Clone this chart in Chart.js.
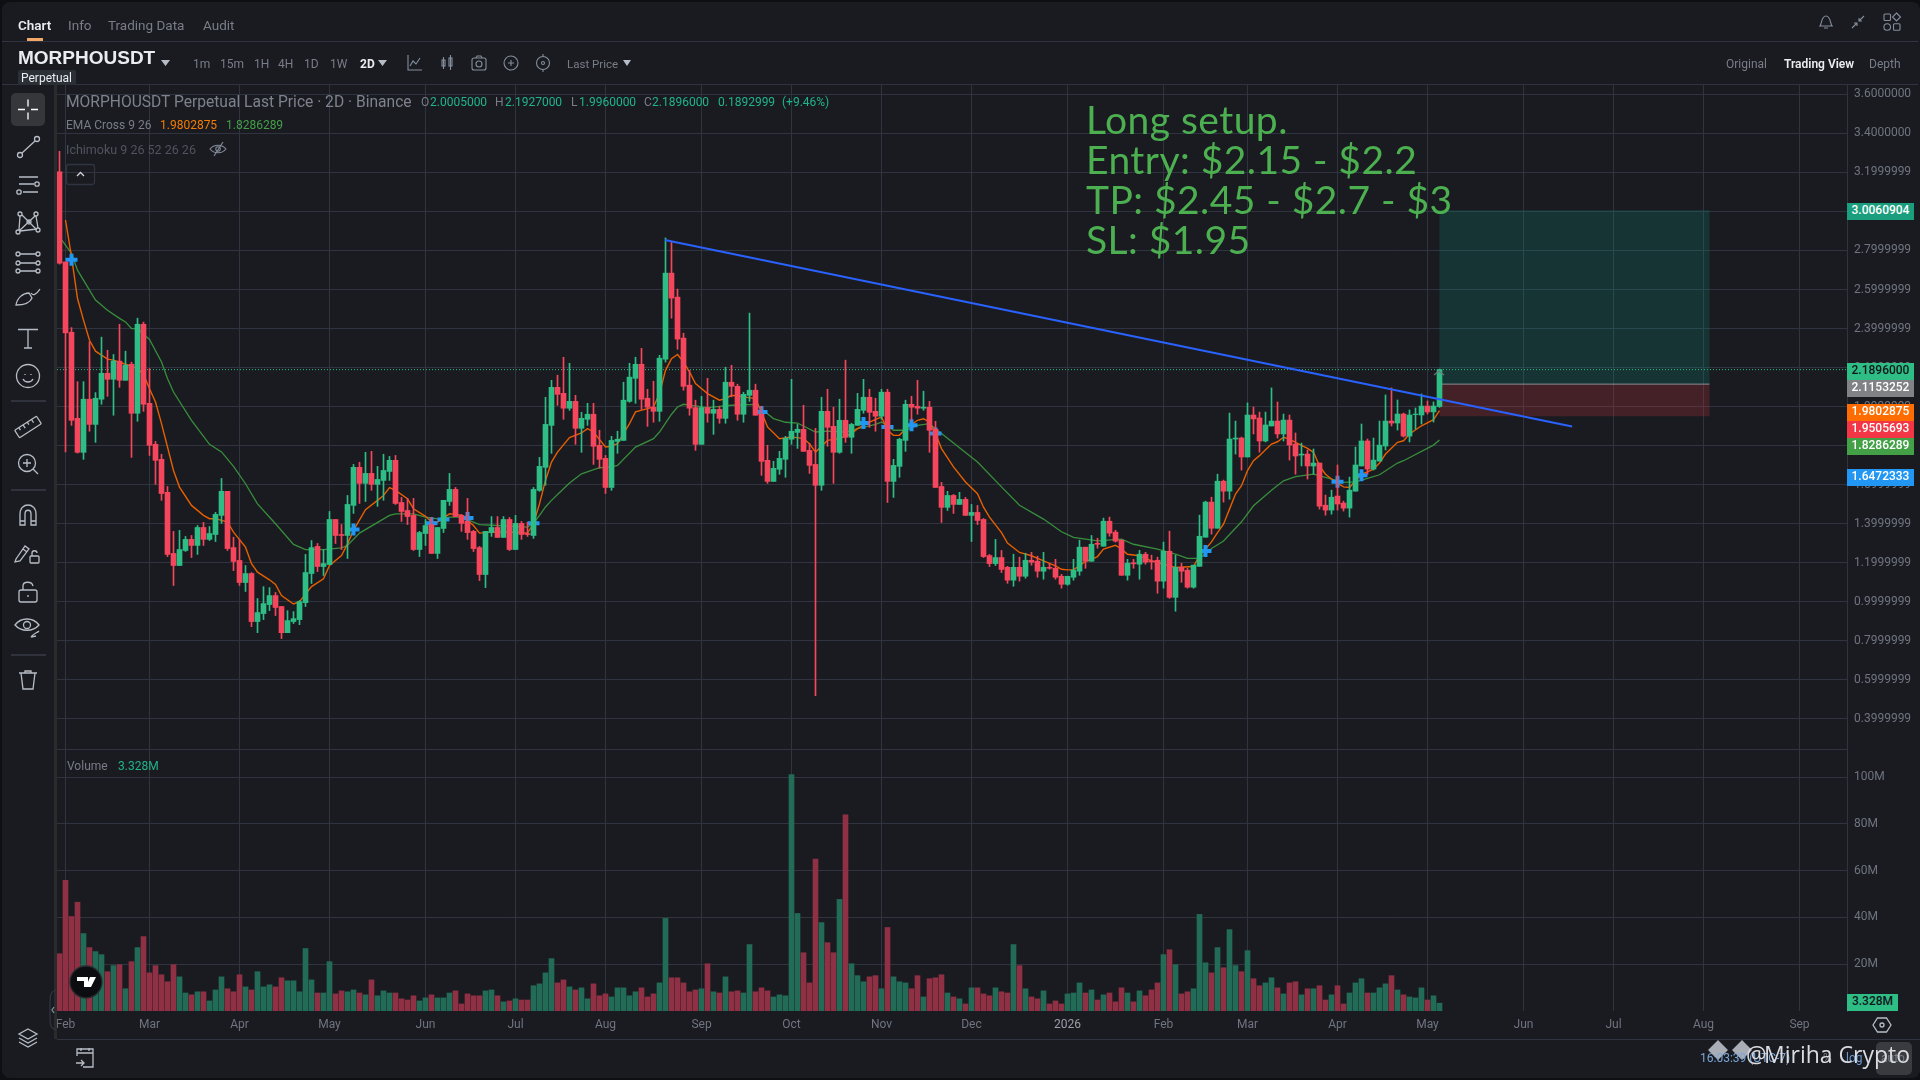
<!DOCTYPE html>
<html lang="en">
<head>
<meta charset="UTF-8">
<title>MORPHOUSDT Perpetual 2D</title>
<script src="https://cdn.jsdelivr.net/npm/chart.js"></script>
<style>
    html, body { margin: 0; width: 1920px; height: 1080px; overflow: hidden; background: #0e0f12; }
    #panel { position: absolute; left: 2px; top: 2px; width: 1918px; height: 1076px; background: #1a1b20; border-radius: 8px; }
    canvas { position: absolute; left: 0; }
    #priceChart { top: 84px; }
    #volumeChart { top: 749px; }
    #icons { position: absolute; left: 0; top: 0; z-index: 3; }
    .t { position: absolute; white-space: nowrap; transform: translateY(-50%); font-family: Roboto, sans-serif; z-index: 4; }
    .tag { position: absolute; left: 1847px; width: 67px; height: 17px; line-height: 17px; text-align: center; font: 500 12px Roboto, sans-serif; color: #fff; z-index: 4; }
    .hline { position: absolute; height: 1px; background: #2f3440; z-index: 2; }
    #setup { position: absolute; left: 1086px; top: 99px; z-index: 4; font: 39px/40px Lato, sans-serif; letter-spacing: 0.45px; color: #4caf50; white-space: pre; }
</style>
</head>
<body>
<div id="panel"></div>
<canvas id="priceChart" width="1920" height="665"></canvas>
<canvas id="volumeChart" width="1920" height="291"></canvas>
<div class="hline" style="left:2px;top:41px;width:1916px"></div>
<div class="hline" style="left:2px;top:84px;width:1916px"></div>
<div class="hline" style="left:57px;top:749px;width:1790px"></div>
<div class="hline" style="left:57px;top:1039px;width:1863px"></div>
<div id="setup">Long setup.
Entry: $2.15 - $2.2
TP: $2.45 - $2.7 - $3
SL: $1.95</div>

<svg id="icons" width="1920" height="1080" fill="none" stroke="#b7bdc6" stroke-width="1.3">
    <rect x="54" y="84" width="3" height="955" fill="#2b2b2d" stroke="none"/>
    <rect x="11" y="93" width="34" height="33" rx="5" fill="#36373b" stroke="none"/>
    <path d="M18 109.5h7M31 109.5h7M28 99.5v7M28 112.5v7" stroke="#fff"/>
    <g transform="translate(28,147)"><circle cx="-8" cy="8" r="2.5"/><circle cx="9" cy="-8" r="2.5"/><path d="M-6 6L7 -6"/></g>
    <g transform="translate(28,184)"><path d="M-9 -7H10M-9 0H6M-5 8H10"/><circle cx="9" cy="0" r="2.2"/><circle cx="-9" cy="8" r="2.2"/></g>
    <g transform="translate(28,223)"><circle cx="-8" cy="-9" r="2"/><circle cx="8" cy="-9" r="2"/><circle cx="-10" cy="9" r="2"/><circle cx="10" cy="7" r="2"/><circle cx="1" cy="-1" r="2"/><path d="M-8 -7L-9 7M-6 -8L8 6M7 -7L-9 8M8 -7L10 5M-8 8L9 6"/></g>
    <g transform="translate(28,262)"><circle cx="-10" cy="-8" r="2"/><circle cx="-10" cy="1" r="2"/><circle cx="-10" cy="9" r="2"/><circle cx="10" cy="-8" r="2"/><circle cx="10" cy="1" r="2"/><circle cx="10" cy="9" r="2"/><path d="M-8 -8H8M-8 9H8M-8 1H8"/></g>
    <g transform="translate(28,296)"><path d="M-12 9C-11 2 -5 -3 1 -3L4 2C2 7 -4 9 -12 9ZM3 -3C5 0 8 -1 12 -7"/></g>
    <path d="M18 329.5H38M28 329.5V348M24 348H32"/>
    <g transform="translate(28,376)"><circle r="11.5"/><path d="M-5 3C-3 7 3 7 5 3"/><path d="M-3 -2v1M3 -2v1"/></g>
    <g transform="translate(28,427) rotate(-33)"><rect x="-13" y="-4.5" width="26" height="9" rx="1"/><path d="M-8 -4.5v3M-3 -4.5v4M2 -4.5v3M7 -4.5v4"/></g>
    <g transform="translate(28,464)"><circle cx="-1" cy="-1" r="8.5"/><path d="M-5 -1h8M-1 -5v8M5 5l5 5"/></g>
    <g transform="translate(28,516)"><path d="M-8 9V-2C-8 -14 8 -14 8 -2V9H3V-2C3 -7 -3 -7 -3 -2V9ZM-8 5H-3M3 5H8"/></g>
    <g transform="translate(27,553)"><path d="M-11 6L-2 -7L2 -4L-7 8L-12 9ZM-4 -4L0 -1"/><rect x="3" y="3" width="9" height="7" rx="1"/><path d="M5 3V0C5 -3 10 -3 10 0"/></g>
    <g transform="translate(28,592)"><rect x="-9" y="-2" width="18" height="12" rx="2"/><path d="M-5 -2V-6C-5 -11 4 -11 5 -6"/><path d="M0 3v2"/></g>
    <g transform="translate(27,627)"><path d="M-12 -2C-6 -10 6 -10 12 -2C6 5 -6 5 -12 -2Z"/><circle cy="-2" r="3.5"/><path d="M4 10C7 6 10 6 12 4M4 10L9 9"/></g>
    <g transform="translate(28,680)"><path d="M-9 -7H9M-7 -7L-5 9H5L7 -7M-3 -7V-9H3V-7"/></g>
    <g transform="translate(28,1038)"><path d="M0 -9L9 -4L0 1L-9 -4ZM-9 0L0 5L9 0M-9 4L0 9L9 4"/></g>
    <g transform="translate(85,1058)"><path d="M-8 -2V-9H8V9H-2M-8 -5H8M-4 -10v3M4 -10v3M-9 5H-1M-4 2L-1 5L-4 8"/></g>
    <g transform="translate(1882,1025)"><path d="M-9 0L-4.5 -7H4.5L9 0L4.5 7H-4.5Z"/><circle r="2"/></g>
    <g transform="translate(218,149)" stroke="#848e9c" stroke-width="1.1"><path d="M-8 0C-4 -5 4 -5 8 0C4 5 -4 5 -8 0Z"/><circle r="2.2"/><path d="M-4 7L5 -7"/></g>
    <path d="M1434 375L1439 371L1444 375" stroke="#6f7480"/>
    <circle cx="86" cy="982" r="16" fill="#0c0d10" stroke="#2b2c30"/>
    <path d="M77 977H88V987H84V981H77ZM90 977H96L91 987H86Z" fill="#fff" stroke="none"/>
    <path d="M56 990C50 992 50 994 50 1010C50 1026 50 1028 56 1030" stroke="#2f3440"/>
    <path d="M54 1007L52 1010L54 1013" stroke="#848e9c"/>
    <rect x="66.5" y="164.5" width="28" height="20" rx="2.5" stroke="#2f3440"/>
    <path d="M77 176L80.5 172.5L84 176" stroke="#d1d4dc"/>
    <g stroke="#848e9c" stroke-width="1.1">
        <g transform="translate(415,63)"><path d="M-7 -8V7H7M-5 3L-2 -2L1 1L5 -5"/></g>
        <g transform="translate(447,63)"><rect x="-5" y="-3" width="3" height="6"/><rect x="2" y="-5" width="3" height="8"/><path d="M-3.5 -6V6M3.5 -8V7"/></g>
        <g transform="translate(479,63)"><rect x="-7" y="-5" width="14" height="12" rx="2"/><circle cy="1" r="3"/><path d="M-3 -5L-2 -7H2L3 -5"/></g>
        <g transform="translate(511,63)"><circle r="7"/><path d="M-3 0H3M0 -3V3"/></g>
        <g transform="translate(543,63)"><circle r="6.5"/><circle r="1.5"/><path d="M0 -9V-6M0 6V9"/></g>
        <g transform="translate(1826,22)"><path d="M-6 4C-4 2 -5 -6 0 -6C5 -6 4 2 6 4ZM-2 6H2"/></g>
        <g transform="translate(1858,22)"><path d="M-6 6L-1 1M-4 1H-1V4M6 -6L1 -1M1 -4V-1H4"/></g>
        <g transform="translate(1892,22)"><rect x="-8" y="-8" width="6.5" height="6.5" rx="1"/><path d="M4.5 -9L8.5 -5L4.5 -1L0.5 -5Z"/><circle cx="-4.8" cy="5" r="3.3"/><rect x="1.5" y="1.7" width="6.5" height="6.5" rx="1"/></g>
    </g>
    <path d="M11 401H46M11 490H46M11 655H46" stroke="#3a3d45"/>
    <rect x="27" y="38" width="16" height="3" fill="#f0a868" stroke="none"/>
    <path d="M161 60H170L165.5 66ZM378 60H387L382.5 66ZM623 60H631L627 66Z" fill="#b7bdc6" stroke="none"/>
    <rect x="18" y="70" width="58" height="15" rx="2" fill="#2b2f36" stroke="none"/>
    <rect x="1876" y="1042" width="36" height="33" rx="5" fill="#3a3b3f" stroke="none"/>
    <path d="M1718 1040L1728 1050L1718 1060L1708 1050ZM1742 1040L1752 1050L1742 1060L1732 1050Z" fill="#a9adb5" stroke="none"/>
</svg>

<script>
// candles, every 2 days, oldest first
var opens = [
    3.203,2.741,2.381,1.940,1.766,2.038,1.909,2.038,2.171,2.140,
    2.233,2.135,2.217,1.966,2.422,2.017,1.807,1.730,1.561,1.248,
    1.186,1.263,1.320,1.289,1.381,1.320,1.345,1.443,1.566,1.278,
    1.212,1.099,1.145,0.899,0.940,0.986,1.032,0.976,0.842,0.899,
    0.909,0.996,1.145,1.284,1.181,1.191,1.422,1.345,1.340,1.494,
    1.689,1.607,1.658,1.602,1.622,1.668,1.725,1.509,1.468,1.443,
    1.268,1.350,1.395,1.248,1.376,1.514,1.576,1.443,1.412,1.361,
    1.278,1.140,1.355,1.381,1.330,1.422,1.268,1.402,1.350,1.340,
    1.571,1.689,1.904,2.099,2.068,1.992,2.027,1.889,1.935,1.961,
    1.802,1.735,1.586,1.822,1.827,2.027,2.145,2.217,2.043,1.997,
    1.976,2.243,2.684,2.561,2.351,2.110,1.995,1.807,1.995,1.966,
    1.986,1.940,2.125,2.104,1.961,2.058,2.084,1.961,1.725,1.617,
    1.679,1.730,1.833,1.868,1.884,1.776,1.704,1.597,1.976,1.899,
    1.766,1.930,1.843,1.904,1.981,2.048,1.976,1.951,2.074,1.617,
    1.694,1.827,2.012,2.002,1.992,1.997,1.884,1.591,1.484,1.545,
    1.499,1.525,1.443,1.458,1.422,1.237,1.196,1.227,1.177,1.111,
    1.177,1.131,1.213,1.208,1.157,1.177,1.172,1.131,1.090,1.126,
    1.157,1.280,1.208,1.300,1.285,1.413,1.357,1.316,1.136,1.200,
    1.193,1.244,1.210,1.213,1.106,1.259,1.023,1.177,1.162,1.075,
    1.182,1.331,1.511,1.377,1.618,1.567,1.834,1.839,1.742,1.957,
    1.942,1.824,1.901,1.926,1.860,1.931,1.808,1.752,1.757,1.696,
    1.711,1.495,1.470,1.542,1.506,1.480,1.567,1.696,1.824,1.680,
    1.721,1.798,1.926,1.916,1.962,1.849,1.959,1.957,2.003,1.973,2.0005
];
var highs = [
    3.308,2.741,2.405,2.128,2.128,2.332,2.072,2.356,2.289,2.267,
    2.422,2.284,2.228,2.453,2.433,2.195,1.822,1.756,1.591,1.361,
    1.366,1.335,1.340,1.391,1.407,1.386,1.458,1.632,1.566,1.331,
    1.320,1.186,1.150,1.017,1.078,1.073,1.048,0.976,0.955,0.950,
    1.007,1.243,1.314,1.299,1.268,1.463,1.422,1.396,1.545,1.704,
    1.715,1.766,1.771,1.694,1.756,1.745,1.750,1.535,1.530,1.530,
    1.361,1.422,1.432,1.381,1.520,1.658,1.586,1.448,1.530,1.366,
    1.284,1.361,1.437,1.437,1.437,1.432,1.443,1.412,1.407,1.586,
    1.740,2.048,2.135,2.161,2.253,2.222,2.058,1.971,2.017,2.017,
    1.879,1.750,1.848,1.874,2.125,2.222,2.253,2.299,2.089,2.130,
    2.263,2.864,2.843,2.602,2.376,2.186,2.033,2.053,2.145,2.033,
    2.002,2.202,2.212,2.115,2.074,2.479,2.115,2.002,1.802,1.720,
    1.771,1.848,2.140,1.909,2.007,1.812,1.889,2.048,2.089,1.997,
    2.038,2.238,1.915,2.068,2.140,2.089,2.043,2.089,2.089,1.730,
    1.838,2.033,2.053,2.135,2.079,2.027,1.925,1.612,1.566,1.550,
    1.561,1.535,1.499,1.494,1.427,1.243,1.320,1.263,1.182,1.244,
    1.229,1.249,1.254,1.234,1.254,1.198,1.218,1.141,1.131,1.218,
    1.316,1.280,1.340,1.326,1.429,1.434,1.367,1.316,1.218,1.218,
    1.264,1.254,1.239,1.229,1.306,1.362,1.239,1.198,1.172,1.188,
    1.444,1.516,1.536,1.654,1.624,1.967,1.926,1.844,2.019,1.998,
    1.972,1.972,2.096,2.024,1.962,1.957,1.865,1.813,1.778,1.783,
    1.711,1.547,1.572,1.701,1.516,1.639,1.793,1.911,1.834,1.839,
    1.926,2.060,2.096,2.034,1.967,1.983,1.993,2.065,2.029,2.024,2.1927
];
var lows = [
    2.730,1.768,1.904,1.762,1.730,1.874,1.817,2.012,2.053,1.956,
    2.099,2.135,1.740,1.925,1.976,1.750,1.602,1.520,1.232,1.084,
    1.186,1.258,1.227,1.243,1.289,1.314,1.309,1.402,1.263,1.160,
    1.084,1.053,0.873,0.842,0.909,0.955,0.930,0.812,0.842,0.889,
    0.883,0.976,1.094,1.155,1.135,1.191,1.299,1.268,1.222,1.453,
    1.504,1.514,1.571,1.489,1.520,1.622,1.499,1.412,1.396,1.263,
    1.232,1.289,1.248,1.222,1.355,1.494,1.437,1.361,1.320,1.258,
    1.109,1.073,1.335,1.330,1.330,1.263,1.268,1.320,1.335,1.325,
    1.566,1.597,1.761,2.007,1.935,1.981,1.807,1.766,1.904,1.704,
    1.684,1.555,1.571,1.761,1.827,2.022,2.017,1.986,1.899,1.920,
    1.925,2.228,2.453,2.294,2.084,1.956,1.776,1.807,1.920,1.858,
    1.915,1.915,2.050,1.930,1.920,2.027,1.956,1.648,1.607,1.617,
    1.653,1.638,1.807,1.786,1.771,1.658,0.519,1.571,1.797,1.607,
    1.761,1.817,1.761,1.904,1.966,1.894,1.874,1.935,1.509,1.535,
    1.638,1.771,1.930,1.961,1.981,1.766,1.586,1.407,1.468,1.453,
    1.499,1.443,1.309,1.396,1.227,1.181,1.186,1.150,1.095,1.080,
    1.106,1.121,1.188,1.126,1.116,1.167,1.116,1.070,1.085,1.111,
    1.136,1.172,1.208,1.275,1.285,1.336,1.306,1.136,1.111,1.172,
    1.116,1.193,1.167,1.044,1.070,1.018,0.952,1.100,1.070,1.070,
    1.182,1.331,1.347,1.377,1.511,1.526,1.757,1.675,1.742,1.860,
    1.767,1.819,1.901,1.839,1.824,1.726,1.654,1.696,1.629,1.654,
    1.475,1.444,1.449,1.470,1.465,1.434,1.567,1.696,1.654,1.675,
    1.721,1.778,1.901,1.880,1.844,1.819,1.885,1.911,1.962,1.921,1.9960
];
var closes = [
    2.735,2.378,1.930,1.766,2.038,1.909,2.043,2.171,2.140,2.233,
    2.135,2.212,1.966,2.422,2.012,1.802,1.725,1.555,1.243,1.186,
    1.268,1.320,1.289,1.381,1.320,1.350,1.448,1.566,1.273,1.207,
    1.099,1.145,0.899,0.945,0.991,1.032,0.971,0.842,0.904,0.914,
    1.001,1.150,1.278,1.181,1.196,1.422,1.340,1.340,1.499,1.689,
    1.607,1.658,1.602,1.627,1.673,1.725,1.504,1.463,1.437,1.268,
    1.355,1.391,1.248,1.381,1.520,1.576,1.437,1.402,1.355,1.273,
    1.140,1.361,1.381,1.330,1.422,1.268,1.402,1.345,1.345,1.576,
    1.694,1.909,2.099,2.063,1.992,2.027,1.889,1.940,1.961,1.797,
    1.730,1.586,1.827,1.833,2.033,2.151,2.217,2.038,1.997,1.976,
    2.248,2.684,2.556,2.346,2.104,1.992,1.807,1.995,1.966,1.986,
    1.940,2.125,2.104,1.961,2.063,2.084,1.956,1.720,1.617,1.684,
    1.735,1.838,1.874,1.884,1.771,1.699,1.597,1.976,1.894,1.766,
    1.930,1.843,1.909,1.986,2.048,1.971,1.951,2.074,1.617,1.699,
    1.833,2.012,1.997,1.992,1.997,1.879,1.586,1.484,1.545,1.499,
    1.525,1.443,1.458,1.417,1.232,1.196,1.227,1.166,1.111,1.177,
    1.131,1.213,1.203,1.157,1.177,1.172,1.126,1.090,1.131,1.162,
    1.280,1.208,1.295,1.295,1.413,1.352,1.311,1.136,1.198,1.195,
    1.244,1.203,1.205,1.106,1.259,1.023,1.177,1.157,1.075,1.188,
    1.336,1.511,1.377,1.618,1.567,1.834,1.839,1.742,1.957,1.937,
    1.824,1.906,1.926,1.860,1.931,1.803,1.747,1.757,1.696,1.711,
    1.490,1.470,1.536,1.501,1.480,1.572,1.701,1.824,1.680,1.726,
    1.803,1.926,1.916,1.962,1.849,1.957,1.962,2.003,1.973,2.003,2.1896
];
// volume in millions
var volumes = [
    24.5,55.9,40.4,46.5,33.1,27.1,25.4,24.1,16.8,19.4,
    19.8,9.5,21.1,27.1,31.8,16.3,19.4,15.5,12.5,19.8,
    14.6,7.7,6.9,8.2,8.2,4.3,9.0,14.6,9.5,8.2,
    15.5,10.3,9.0,16.8,10.3,11.2,10.3,14.2,12.9,12.9,
    8.2,26.7,13.3,7.7,7.7,21.1,7.3,8.6,8.2,9.0,
    7.7,6.9,13.3,6.5,8.6,7.7,7.7,5.2,4.7,6.5,
    4.3,5.6,6.9,5.6,5.6,7.7,8.6,3.0,7.3,6.5,
    6.5,8.6,9.0,6.5,3.9,4.3,5.2,4.7,4.7,10.8,
    11.6,16.3,22.4,12.0,13.3,10.3,9.0,9.9,5.2,11.6,
    6.5,7.3,6.0,9.9,9.9,6.5,8.2,9.9,6.0,7.3,
    12.0,39.6,14.2,14.2,12.0,8.2,9.0,9.5,20.2,8.2,
    7.7,14.6,8.2,8.6,7.7,28.4,8.2,9.9,8.6,6.0,
    6.9,6.5,101.1,41.7,24.9,12.0,64.9,37.8,29.2,24.9,
    47.7,83.9,20.2,15.1,12.5,14.6,15.1,9.5,35.7,14.6,
    12.5,12.0,9.5,15.1,6.0,13.8,14.2,15.5,7.7,6.0,
    5.2,3.0,9.9,9.9,7.3,6.5,9.9,8.2,7.7,28.4,
    19.4,9.5,6.0,5.2,8.6,3.0,4.3,3.0,7.3,7.7,
    12.0,7.7,9.0,4.7,6.9,7.7,3.9,9.9,7.7,3.9,
    8.6,6.5,9.0,12.0,24.1,26.2,19.8,7.3,8.2,9.5,
    41.3,20.6,16.3,27.1,18.5,34.8,19.4,16.8,25.8,13.8,
    10.8,12.0,14.2,9.9,7.3,12.0,12.5,6.9,9.5,9.5,
    10.8,4.7,6.9,10.8,3.0,7.7,12.0,13.8,7.7,7.7,
    9.9,11.6,15.1,9.0,6.9,6.0,5.6,9.9,4.7,6.5,3.328
];
// EMA 9, read at the bars listed in emaFastBars
var emaFastBars = [1,2,3,4,5,6,8,9,11,13,14,15,16,17,18,19,20,22,24,25,26,28,29,31,32,33,35,36,37,39,40,42,44,45,47,48,49,51,53,54,55,56,58,59,61,62,63,65,66,67,69,70,72,76,78,79,80,81,82,83,85,87,88,89,91,92,93,95,96,98,99,100,101,102,103,104,105,106,108,110,111,112,114,116,117,118,120,122,124,125,126,128,130,132,133,135,137,138,139,140,141,143,144,145,146,147,149,151,153,154,155,157,158,160,162,164,166,167,168,169,171,172,173,174,176,177,178,180,182,184,186,189,190,191,192,193,194,195,196,197,198,199,200,201,202,203,204,205,206,208,209,210,211,212,213,214,215,216,217,218,219,220,221,223,224,225,227,229,230];
var emaFastValues = [2.956,2.768,2.554,2.443,2.340,2.284,2.243,2.238,2.217,2.195,2.166,2.092,2.024,1.913,1.793,1.673,1.588,1.494,1.443,1.426,1.426,1.409,1.357,1.280,1.195,1.152,1.113,1.089,1.032,0.989,1.001,1.078,1.118,1.186,1.237,1.297,1.366,1.472,1.520,1.545,1.585,1.571,1.528,1.477,1.438,1.409,1.409,1.451,1.448,1.443,1.391,1.352,1.357,1.357,1.352,1.400,1.502,1.622,1.716,1.767,1.841,1.865,1.887,1.870,1.793,1.797,1.810,1.913,1.973,1.990,1.998,2.067,2.186,2.246,2.267,2.229,2.178,2.118,2.067,2.033,2.041,2.058,2.050,2.041,1.973,1.896,1.836,1.845,1.836,1.810,1.767,1.827,1.836,1.862,1.887,1.921,1.947,1.879,1.853,1.853,1.887,1.930,1.938,1.921,1.862,1.785,1.691,1.614,1.554,1.485,1.434,1.355,1.301,1.253,1.236,1.210,1.184,1.167,1.164,1.164,1.207,1.218,1.232,1.270,1.290,1.270,1.244,1.236,1.210,1.193,1.176,1.181,1.236,1.270,1.307,1.355,1.398,1.475,1.552,1.595,1.672,1.723,1.749,1.779,1.808,1.820,1.843,1.834,1.817,1.786,1.766,1.697,1.654,1.629,1.608,1.589,1.586,1.620,1.654,1.666,1.680,1.711,1.757,1.817,1.825,1.860,1.902,1.933,1.980];
// EMA 26
var emaSlowBars = [0,2,3,5,6,8,10,11,12,13,15,17,18,19,22,25,27,29,31,33,36,39,41,44,47,48,50,55,56,59,61,63,65,67,70,73,78,79,80,81,82,83,85,87,90,92,93,96,99,100,102,103,104,108,112,116,119,121,123,126,128,131,133,136,137,139,141,143,145,146,153,157,160,164,167,169,173,177,179,183,186,188,190,192,194,197,199,202,204,206,209,211,214,216,218,220,223,224,229,230];
var emaSlowValues = [2.870,2.785,2.699,2.597,2.546,2.494,2.452,2.434,2.400,2.400,2.344,2.229,2.144,2.075,1.930,1.807,1.768,1.694,1.605,1.502,1.400,1.294,1.268,1.267,1.277,1.289,1.352,1.443,1.451,1.451,1.434,1.425,1.434,1.434,1.396,1.391,1.383,1.403,1.443,1.486,1.520,1.550,1.609,1.656,1.687,1.691,1.699,1.793,1.836,1.870,1.961,1.998,2.012,1.995,2.007,2.012,1.939,1.920,1.916,1.870,1.875,1.870,1.887,1.909,1.921,1.879,1.879,1.904,1.913,1.887,1.716,1.589,1.495,1.424,1.359,1.330,1.312,1.321,1.295,1.270,1.244,1.223,1.223,1.273,1.312,1.410,1.492,1.572,1.620,1.641,1.654,1.637,1.612,1.615,1.632,1.651,1.711,1.723,1.803,1.8286];
// EMA cross markers
var crossBars = [2,49,62,64,68,79,117,134,138,142,146,191,213,217];
var crossValues = [2.752,1.371,1.403,1.422,1.429,1.403,1.973,1.916,1.896,1.904,1.862,1.261,1.615,1.649];
// trend line and long position
var trendBars = [100.9,252.1];
var trendValues = [2.854,1.898];
var lastPrice = 2.1896;
var positionBars = [230,275];
var positionTarget = 3.0060904;
var positionEntry = 2.1153252;
var positionStop = 1.9505693;
// axes
var priceTicks = [3.6,3.4,3.2,3.0,2.8,2.6,2.4,2.2,2.0,1.8,1.6,1.4,1.2,1.0,0.8,0.6,0.4];
var priceTickLabels = ['3.6000000','3.4000000','3.1999999','2.9999999','2.7999999','2.5999999','2.3999999','2.1999999','1.9999999','1.7999999','1.5999999','1.3999999','1.1999999','0.9999999','0.7999999','0.5999999','0.3999999'];
var volumeTicks = [20,40,60,80,100];
var volumeTickLabels = ['20M','40M','60M','80M','100M'];
var monthBars = [1,15,30,45,61,76,91,107,122,137,152,168,184,198,213,228,244,259,274,290];
var monthLabels = ['Feb','Mar','Apr','May','Jun','Jul','Aug','Sep','Oct','Nov','Dec','2026','Feb','Mar','Apr','May','Jun','Jul','Aug','Sep'];

var upColor = '#2ebd85', downColor = '#f6465d', gridColor = '#2f3440', textColor = '#6f7480';
var bars = opens.map(function (o, i) { return i; });
var isUp = function (i) { return closes[i] >= opens[i]; };
var candleColors = bars.map(function (i) { return isUp(i) ? upColor : downColor; });
var volumeColors = bars.map(function (i) { return isUp(i) ? '#226b56' : '#8f3044'; });
var xMin = -0.4167, xMax = 297.9167;

var monthAxis = function (withLabels) {
    return {
        type: 'linear', min: xMin, max: xMax, display: true, offset: false,
        afterBuildTicks: function (s) { s.ticks = monthBars.map(function (v) { return { value: v }; }); },
        afterFit: function (s) { s.height = withLabels ? 29 : 0; s.paddingLeft = 0; s.paddingRight = 0; },
        grid: { color: gridColor, drawTicks: false, offset: false },
        border: { display: false },
        ticks: {
            display: withLabels, autoSkip: false, maxRotation: 0, padding: 7,
            color: function (c) { return monthLabels[c.index] === '2026' ? '#9a9ea8' : textColor; },
            font: { family: 'Roboto', size: 12 },
            callback: function (v, i) { return monthLabels[i]; }
        }
    };
};
var valueAxis = function (min, max, ticks, labels) {
    return {
        position: 'right', min: min, max: max,
        afterBuildTicks: function (s) { s.ticks = ticks.map(function (v) { return { value: v }; }); },
        afterFit: function (s) { s.width = 73; s.paddingTop = 0; s.paddingBottom = 0; },
        grid: { color: gridColor, drawTicks: false },
        border: { display: true, color: gridColor },
        ticks: {
            autoSkip: false, crossAlign: 'near', padding: 7, color: textColor,
            font: { family: 'Roboto', size: 12 },
            callback: function (v, i) { return labels[i]; }
        }
    };
};

var positionBox = {
    id: 'positionBox',
    beforeDatasetsDraw: function (chart) {
        var x = chart.scales.x, y = chart.scales.y, c = chart.ctx;
        var left = x.getPixelForValue(positionBars[0]), right = x.getPixelForValue(positionBars[1]);
        var top = y.getPixelForValue(positionTarget), mid = y.getPixelForValue(positionEntry), low = y.getPixelForValue(positionStop);
        c.save();
        c.fillStyle = 'rgba(8,153,129,0.2)';
        c.fillRect(left, top, right - left, mid - top);
        c.fillStyle = 'rgba(242,54,69,0.2)';
        c.fillRect(left, mid, right - left, low - mid);
        c.fillStyle = '#8a8d93';
        c.fillRect(left, mid - 0.5, right - left, 1);
        c.restore();
    }
};

Chart.defaults.animation = false;
var common = {
    responsive: false, devicePixelRatio: 1, animation: false,
    layout: { autoPadding: false, padding: { left: 57, right: 0, top: 0, bottom: 0 } },
    plugins: { legend: { display: false }, tooltip: { enabled: false } }
};
var lineSet = function (xs, ys, color, width, order) {
    return {
        type: 'line', order: order, borderColor: color, borderWidth: width, pointRadius: 0, tension: 0,
        data: xs.map(function (x, i) { return { x: x, y: ys[i] }; })
    };
};

// higher order is drawn first: candles sit over the EMA lines and cross markers
new Chart(document.getElementById('priceChart'), {
    type: 'bar',
    plugins: [positionBox],
    data: {
        datasets: [
            Object.assign(lineSet([xMin, xMax], [lastPrice, lastPrice], upColor, 1, 7), { borderDash: [1, 2] }),
            lineSet(emaSlowBars, emaSlowValues, '#388e3c', 1.3, 6),
            lineSet(emaFastBars, emaFastValues, '#e65f00', 1.4, 5),
            {
                type: 'line', order: 4, showLine: false, pointStyle: 'cross', pointRadius: 6, pointBorderWidth: 4,
                pointBorderColor: '#2196f3', data: crossBars.map(function (x, i) { return { x: x, y: crossValues[i] }; })
            },
            {
                grouped: false, order: 3, barThickness: 1, backgroundColor: candleColors,
                data: bars.map(function (i) { return { x: i, y: [lows[i], highs[i]] }; })
            },
            {
                grouped: false, order: 2, barThickness: 5, backgroundColor: candleColors,
                data: bars.map(function (i) { return { x: i, y: [opens[i], closes[i]] }; })
            },
            lineSet(trendBars, trendValues, '#2962ff', 2, 1)
        ]
    },
    options: Object.assign({}, common, {
        scales: { x: monthAxis(false), y: valueAxis(0.2462, 3.6527, priceTicks, priceTickLabels) }
    })
});

new Chart(document.getElementById('volumeChart'), {
    type: 'bar',
    data: {
        datasets: [{
            barThickness: 5, backgroundColor: volumeColors,
            data: bars.map(function (i) { return { x: i, y: volumes[i] }; })
        }]
    },
    options: Object.assign({}, common, {
        scales: { x: monthAxis(true), y: valueAxis(0, 112, volumeTicks, volumeTickLabels) }
    })
});

// page text around the chart
var label = function (text, x, cy, size, color, weight, font) {
    var d = document.createElement('div');
    d.className = 't';
    d.textContent = text;
    d.style.left = x + 'px';
    d.style.top = cy + 'px';
    d.style.fontSize = size + 'px';
    d.style.color = color;
    if (weight) d.style.fontWeight = weight;
    if (font) d.style.fontFamily = font;
    document.body.appendChild(d);
};
var grey = '#787d88', teal = '#1fb48c';
label('Chart', 18, 25, 13.5, '#eaecef', 600);
label('Info', 68, 25, 13.5, grey);
label('Trading Data', 108, 25, 13.5, grey);
label('Audit', 203, 25, 13.5, grey);
label('MORPHOUSDT', 18, 58, 19, '#eaecef', 700, 'Liberation Sans');
label('Perpetual', 21, 78, 12, '#eaecef');
[['1m',193],['15m',220],['1H',254],['4H',278],['1D',304],['1W',330]].forEach(function (p) { label(p[0], p[1], 64, 12, grey); });
label('2D', 360, 64, 12, '#eaecef', 700);
label('Last Price', 567, 64, 11.5, grey);
label('Original', 1726, 64, 12, grey);
label('Trading View', 1784, 64, 12, '#eaecef', 600);
label('Depth', 1869, 64, 12, grey);
label('MORPHOUSDT Perpetual Last Price \u00b7 2D \u00b7 Binance', 66, 102, 15.6, '#7d828d');
[['O',421,grey],['2.0005000',430,teal],['H',495,grey],['2.1927000',505,teal],['L',571,grey],['1.9960000',579,teal],
 ['C',644,grey],['2.1896000',652,teal],['0.1892999',718,teal],['(+9.46%)',782,teal]].forEach(function (p) { label(p[0], p[1], 102, 12, p[2]); });
label('EMA Cross 9 26', 66, 125, 12, grey);
label('1.9802875', 160, 125, 12, '#f57c00');
label('1.8286289', 226, 125, 12, '#43a047');
label('Ichimoku 9 26 52 26 26', 66, 149, 12.5, '#50545e');
label('Volume', 67, 766, 12, grey);
label('3.328M', 118, 766, 12, teal);
label('16:03:39 (UTC-7)', 1700, 1058, 12, '#7aa6d8');
label('%', 1823, 1058, 12, grey);
label('log', 1846, 1058, 12, '#6a98d0');
label('auto', 1881, 1058, 12, grey);
label('@', 1746, 1054, 23, '#d9dbe0', 400, 'Open Sans');
label('Miriha Crypto', 1764, 1054, 23, '#d9dbe0', 400, 'Open Sans');

[['3.0060904',203,'#1b9e7e','#fff'],['2.1896000',363,upColor,'#10151a'],['2.1153252',380,'#808285','#fff'],
 ['1.9802875',404,'#ff6d00','#fff'],['1.9505693',421,'#f23645','#fff'],['1.8286289',438,'#43a047','#fff'],
 ['1.6472333',469,'#2196f3','#fff']].forEach(function (p) {
    var d = document.createElement('div');
    d.className = 'tag';
    d.textContent = p[0];
    d.style.top = p[1] + 'px';
    d.style.background = p[2];
    d.style.color = p[3];
    document.body.appendChild(d);
});
var v = document.createElement('div');
v.className = 'tag';
v.textContent = '3.328M';
v.style.cssText = 'top:994px;width:51px;background:' + upColor + ';color:#10151a';
document.body.appendChild(v);
</script>
</body>
</html>
